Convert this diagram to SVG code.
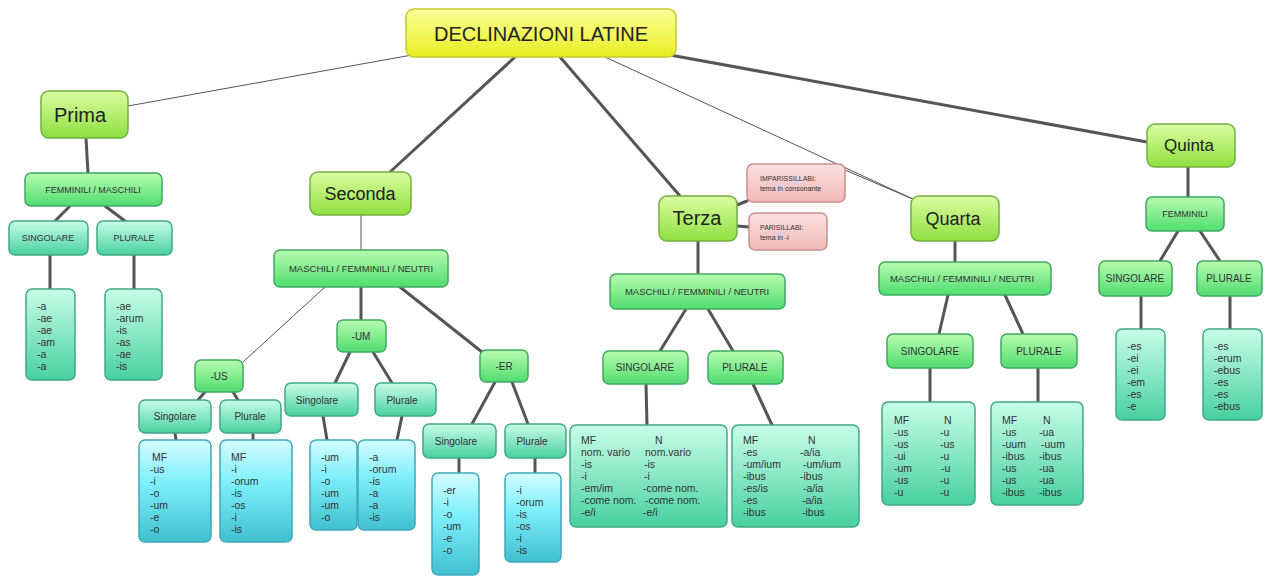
<svg xmlns="http://www.w3.org/2000/svg" width="1280" height="584" viewBox="0 0 1280 584">
<defs>
<linearGradient id="gy" x1="0" y1="0" x2="0" y2="1"><stop offset="0" stop-color="#fbff9a"/><stop offset="1" stop-color="#e8ee20"/></linearGradient>
<linearGradient id="gl" x1="0" y1="0" x2="0" y2="1"><stop offset="0" stop-color="#dcfca0"/><stop offset="1" stop-color="#8ee040"/></linearGradient>
<linearGradient id="gg" x1="0" y1="0" x2="0" y2="1"><stop offset="0" stop-color="#b8fcb0"/><stop offset="1" stop-color="#50dc70"/></linearGradient>
<linearGradient id="gm" x1="0" y1="0" x2="0" y2="1"><stop offset="0" stop-color="#c8fde8"/><stop offset="1" stop-color="#48d0a0"/></linearGradient>
<linearGradient id="gc" x1="0" y1="0" x2="0" y2="1"><stop offset="0" stop-color="#d4fcff"/><stop offset="0.4" stop-color="#80f0fc"/><stop offset="1" stop-color="#40c0d0"/></linearGradient>
<linearGradient id="gp" x1="0" y1="0" x2="0" y2="1"><stop offset="0" stop-color="#fde0e0"/><stop offset="1" stop-color="#f0b8b8"/></linearGradient>
</defs>
<style>
rect{stroke-width:1.5}
.y{fill:url(#gy);stroke:#c8c830}
.l{fill:url(#gl);stroke:#70b040}
.g{fill:url(#gg);stroke:#40a860}
.m{fill:url(#gm);stroke:#40a888}
.c{fill:url(#gc);stroke:#40a8b8}
.p{fill:url(#gp);stroke:#c89090}
text{font-family:"Liberation Sans",Arial,sans-serif;fill:#333;font-size:10px}
.big{font-size:20px;fill:#222}
.med{font-size:11px}
.t{font-size:10.5px}
#connectors line{stroke:#555;stroke-linecap:round}
.k{stroke-width:1}
.w{stroke-width:3}
</style>
<g id="connectors">
<line class="k" x1="412" y1="55" x2="128" y2="106"/>
<line class="w" x1="515" y1="57" x2="390" y2="172"/>
<line class="w" x1="560" y1="57" x2="680" y2="196"/>
<line class="k" x1="605" y1="57" x2="915" y2="200"/>
<line class="w" x1="670" y1="55" x2="1147" y2="142"/>
<line class="w" x1="86" y1="138" x2="88" y2="173"/>
<line class="w" x1="70" y1="206" x2="55" y2="221"/>
<line class="w" x1="105" y1="206" x2="125" y2="221"/>
<line class="w" x1="50" y1="255" x2="50" y2="289"/>
<line class="w" x1="134" y1="255" x2="134" y2="289"/>
<line class="k" x1="361" y1="215" x2="361" y2="250"/>
<line class="k" x1="325" y1="287" x2="243" y2="362"/>
<line class="w" x1="361" y1="287" x2="361" y2="320"/>
<line class="w" x1="400" y1="287" x2="482" y2="352"/>
<line class="w" x1="205" y1="392" x2="198" y2="400"/>
<line class="w" x1="233" y1="392" x2="238" y2="400"/>
<line class="w" x1="175" y1="433" x2="176" y2="440"/>
<line class="w" x1="253" y1="433" x2="253" y2="440"/>
<line class="w" x1="350" y1="352" x2="335" y2="383"/>
<line class="w" x1="373" y1="352" x2="392" y2="383"/>
<line class="w" x1="323" y1="416" x2="327" y2="440"/>
<line class="w" x1="402" y1="416" x2="397" y2="440"/>
<line class="w" x1="495" y1="382" x2="472" y2="424"/>
<line class="w" x1="512" y1="382" x2="528" y2="424"/>
<line class="w" x1="459" y1="458" x2="459" y2="473"/>
<line class="w" x1="535" y1="458" x2="535" y2="473"/>
<line class="w" x1="737" y1="205" x2="747" y2="201"/>
<line class="w" x1="737" y1="226" x2="749" y2="227"/>
<line class="k" x1="845" y1="170" x2="915" y2="200"/>
<line class="w" x1="698" y1="241" x2="698" y2="274"/>
<line class="w" x1="686" y1="309" x2="660" y2="351"/>
<line class="w" x1="708" y1="309" x2="733" y2="351"/>
<line class="w" x1="646" y1="384" x2="647" y2="425"/>
<line class="w" x1="753" y1="384" x2="772" y2="425"/>
<line class="w" x1="955" y1="241" x2="955" y2="262"/>
<line class="w" x1="948" y1="295" x2="939" y2="334"/>
<line class="w" x1="1005" y1="295" x2="1023" y2="334"/>
<line class="w" x1="930" y1="368" x2="930" y2="402"/>
<line class="w" x1="1038" y1="368" x2="1038" y2="402"/>
<line class="w" x1="1188" y1="167" x2="1188" y2="197"/>
<line class="w" x1="1178" y1="231" x2="1160" y2="261"/>
<line class="w" x1="1200" y1="231" x2="1220" y2="261"/>
<line class="w" x1="1141" y1="296" x2="1141" y2="329"/>
<line class="w" x1="1230" y1="296" x2="1230" y2="329"/>
</g>
<g id="root"><rect class="y" x="406" y="9" width="270" height="48" rx="8"/><text class="big" x="541" y="41" text-anchor="middle">DECLINAZIONI LATINE</text></g>
<g id="prima"><rect class="l" x="41" y="91" width="87" height="47" rx="8"/><text class="big" x="80" y="122" text-anchor="middle">Prima</text></g>
<g id="seconda"><rect class="l" x="310" y="172" width="101" height="43" rx="8"/><text class="big" x="360" y="200" text-anchor="middle" style="font-size:18px">Seconda</text></g>
<g id="terza"><rect class="l" x="659" y="196" width="78" height="45" rx="8"/><text class="big" x="697" y="225" text-anchor="middle">Terza</text></g>
<g id="quarta"><rect class="l" x="911" y="196" width="88" height="45" rx="8"/><text class="big" x="953" y="225" text-anchor="middle" style="font-size:18px">Quarta</text></g>
<g id="quinta"><rect class="l" x="1147" y="124" width="88" height="43" rx="8"/><text class="big" x="1189" y="151" text-anchor="middle" style="font-size:17px">Quinta</text></g>
<g id="imparisillabi"><rect class="p" x="747" y="164" width="98" height="38" rx="6"/><text x="760" y="181" style="font-size:7px">IMPARISSILLABI:</text><text x="760" y="191" style="font-size:7px">tema in consonante</text></g>
<g id="parisillabi"><rect class="p" x="749" y="213" width="78" height="37" rx="6"/><text x="760" y="230" style="font-size:7px">PARISILLABI:</text><text x="760" y="240" style="font-size:7px">tema in -i</text></g>
<!-- Prima -->
<g id="p-fm"><rect class="g" x="25" y="173" width="137" height="33" rx="6"/><text x="93" y="193" text-anchor="middle" style="font-size:9px">FEMMINILI / MASCHILI</text></g>
<g id="p-sing"><rect class="m" x="9" y="221" width="79" height="34" rx="6"/><text x="48" y="241" text-anchor="middle" style="font-size:9px">SINGOLARE</text></g>
<g id="p-plur"><rect class="m" x="97" y="221" width="75" height="34" rx="6"/><text x="134" y="241" text-anchor="middle" style="font-size:9px">PLURALE</text></g>
<g id="p-sing-t"><rect class="m" x="26" y="289" width="49" height="91" rx="6"/><text class="t" x="37" y="310"><tspan x="37">-a</tspan><tspan x="37" dy="12">-ae</tspan><tspan x="37" dy="12">-ae</tspan><tspan x="37" dy="12">-am</tspan><tspan x="37" dy="12">-a</tspan><tspan x="37" dy="12">-a</tspan></text></g>
<g id="p-plur-t"><rect class="m" x="105" y="289" width="57" height="91" rx="6"/><text class="t" x="116" y="310"><tspan x="116">-ae</tspan><tspan x="116" dy="12">-arum</tspan><tspan x="116" dy="12">-is</tspan><tspan x="116" dy="12">-as</tspan><tspan x="116" dy="12">-ae</tspan><tspan x="116" dy="12">-is</tspan></text></g>
<!-- Seconda -->
<g id="s-mfn"><rect class="g" x="274" y="250" width="174" height="37" rx="6"/><text x="361" y="272" text-anchor="middle" style="font-size:9.5px">MASCHILI / FEMMINILI / NEUTRI</text></g>
<g id="s-us"><rect class="g" x="195" y="360" width="48" height="32" rx="6"/><text x="219" y="380" text-anchor="middle">-US</text></g>
<g id="s-um"><rect class="g" x="337" y="320" width="49" height="32" rx="6"/><text x="361" y="340" text-anchor="middle">-UM</text></g>
<g id="s-er"><rect class="g" x="480" y="350" width="48" height="32" rx="6"/><text x="504" y="370" text-anchor="middle">-ER</text></g>
<g id="s-us-s"><rect class="m" x="139" y="400" width="72" height="33" rx="6"/><text x="175" y="420" text-anchor="middle">Singolare</text></g>
<g id="s-us-p"><rect class="m" x="220" y="400" width="61" height="33" rx="6"/><text x="250" y="420" text-anchor="middle">Plurale</text></g>
<g id="s-us-st"><rect class="c" x="139" y="440" width="72" height="102" rx="6"/><text class="t" x="150" y="461"><tspan x="152">MF</tspan><tspan x="150" dy="12">-us</tspan><tspan x="150" dy="12">-i</tspan><tspan x="150" dy="12">-o</tspan><tspan x="150" dy="12">-um</tspan><tspan x="150" dy="12">-e</tspan><tspan x="150" dy="12">-o</tspan></text></g>
<g id="s-us-pt"><rect class="c" x="220" y="440" width="72" height="102" rx="6"/><text class="t" x="231" y="461"><tspan x="231">MF</tspan><tspan x="231" dy="12">-i</tspan><tspan x="231" dy="12">-orum</tspan><tspan x="231" dy="12">-is</tspan><tspan x="231" dy="12">-os</tspan><tspan x="231" dy="12">-i</tspan><tspan x="231" dy="12">-is</tspan></text></g>
<g id="s-um-s"><rect class="m" x="285" y="383" width="73" height="33" rx="6"/><text x="317" y="404" text-anchor="middle">Singolare</text></g>
<g id="s-um-p"><rect class="m" x="375" y="383" width="61" height="33" rx="6"/><text x="402" y="404" text-anchor="middle">Plurale</text></g>
<g id="s-um-st"><rect class="c" x="310" y="440" width="47" height="90" rx="6"/><text class="t" x="321" y="461"><tspan x="321">-um</tspan><tspan x="321" dy="12">-i</tspan><tspan x="321" dy="12">-o</tspan><tspan x="321" dy="12">-um</tspan><tspan x="321" dy="12">-um</tspan><tspan x="321" dy="12">-o</tspan></text></g>
<g id="s-um-pt"><rect class="c" x="358" y="440" width="57" height="90" rx="6"/><text class="t" x="369" y="461"><tspan x="369">-a</tspan><tspan x="369" dy="12">-orum</tspan><tspan x="369" dy="12">-is</tspan><tspan x="369" dy="12">-a</tspan><tspan x="369" dy="12">-a</tspan><tspan x="369" dy="12">-is</tspan></text></g>
<g id="s-er-s"><rect class="m" x="423" y="424" width="73" height="34" rx="6"/><text x="456" y="445" text-anchor="middle">Singolare</text></g>
<g id="s-er-p"><rect class="m" x="505" y="424" width="61" height="34" rx="6"/><text x="532" y="445" text-anchor="middle">Plurale</text></g>
<g id="s-er-st"><rect class="c" x="432" y="473" width="47" height="102" rx="6"/><text class="t" x="443" y="494"><tspan x="443">-er</tspan><tspan x="443" dy="12">-i</tspan><tspan x="443" dy="12">-o</tspan><tspan x="443" dy="12">-um</tspan><tspan x="443" dy="12">-e</tspan><tspan x="443" dy="12">-o</tspan></text></g>
<g id="s-er-pt"><rect class="c" x="505" y="473" width="56" height="89" rx="6"/><text class="t" x="516" y="494"><tspan x="516">-i</tspan><tspan x="516" dy="12">-orum</tspan><tspan x="516" dy="12">-is</tspan><tspan x="516" dy="12">-os</tspan><tspan x="516" dy="12">-i</tspan><tspan x="516" dy="12">-is</tspan></text></g>
<!-- Terza -->
<g id="t-mfn"><rect class="g" x="610" y="274" width="175" height="35" rx="6"/><text x="697" y="295" text-anchor="middle" style="font-size:9.5px">MASCHILI / FEMMINILI / NEUTRI</text></g>
<g id="t-sing"><rect class="g" x="603" y="351" width="85" height="33" rx="6"/><text x="645" y="371" text-anchor="middle">SINGOLARE</text></g>
<g id="t-plur"><rect class="g" x="708" y="351" width="75" height="33" rx="6"/><text x="745" y="371" text-anchor="middle">PLURALE</text></g>
<g id="t-sing-t"><rect class="m" x="570" y="425" width="157" height="102" rx="6"/><text class="t" x="581" y="444"><tspan x="581">MF</tspan><tspan x="581" dy="12">nom. vario</tspan><tspan x="581" dy="12">-is</tspan><tspan x="581" dy="12">-i</tspan><tspan x="581" dy="12">-em/im</tspan><tspan x="581" dy="12">-come nom.</tspan><tspan x="581" dy="12">-e/i</tspan></text><text class="t" x="644" y="444"><tspan x="655">N</tspan><tspan x="645" dy="12">nom.vario</tspan><tspan x="644" dy="12">-is</tspan><tspan x="644" dy="12">-i</tspan><tspan x="643" dy="12">-come nom.</tspan><tspan x="645" dy="12">-come nom.</tspan><tspan x="643" dy="12">-e/i</tspan></text></g>
<g id="t-plur-t"><rect class="m" x="732" y="425" width="127" height="102" rx="6"/><text class="t" x="743" y="444"><tspan x="743">MF</tspan><tspan x="743" dy="12">-es</tspan><tspan x="743" dy="12">-um/ium</tspan><tspan x="743" dy="12">-ibus</tspan><tspan x="743" dy="12">-es/is</tspan><tspan x="743" dy="12">-es</tspan><tspan x="743" dy="12">-ibus</tspan></text><text class="t" x="800" y="444"><tspan x="808">N</tspan><tspan x="800" dy="12">-a/ia</tspan><tspan x="803" dy="12">-um/ium</tspan><tspan x="800" dy="12">-ibus</tspan><tspan x="803" dy="12">-a/ia</tspan><tspan x="802" dy="12">-a/ia</tspan><tspan x="802" dy="12">-ibus</tspan></text></g>
<!-- Quarta -->
<g id="q-mfn"><rect class="g" x="879" y="262" width="172" height="33" rx="6"/><text x="962" y="282" text-anchor="middle" style="font-size:9.5px">MASCHILI / FEMMINILI / NEUTRI</text></g>
<g id="q-sing"><rect class="g" x="887" y="334" width="86" height="34" rx="6"/><text x="930" y="355" text-anchor="middle">SINGOLARE</text></g>
<g id="q-plur"><rect class="g" x="1001" y="334" width="76" height="34" rx="6"/><text x="1039" y="355" text-anchor="middle">PLURALE</text></g>
<g id="q-sing-t"><rect class="m" x="882" y="402" width="93" height="103" rx="6"/><text class="t" x="894" y="424"><tspan x="894">MF</tspan><tspan x="894" dy="12">-us</tspan><tspan x="894" dy="12">-us</tspan><tspan x="894" dy="12">-ui</tspan><tspan x="894" dy="12">-um</tspan><tspan x="894" dy="12">-us</tspan><tspan x="894" dy="12">-u</tspan></text><text class="t" x="940" y="424"><tspan x="944">N</tspan><tspan x="940" dy="12">-u</tspan><tspan x="940" dy="12">-us</tspan><tspan x="940" dy="12">-u</tspan><tspan x="941" dy="12">-u</tspan><tspan x="940" dy="12">-u</tspan><tspan x="940" dy="12">-u</tspan></text></g>
<g id="q-plur-t"><rect class="m" x="991" y="402" width="92" height="103" rx="6"/><text class="t" x="1002" y="424"><tspan x="1002">MF</tspan><tspan x="1002" dy="12">-us</tspan><tspan x="1002" dy="12">-uum</tspan><tspan x="1002" dy="12">-ibus</tspan><tspan x="1002" dy="12">-us</tspan><tspan x="1002" dy="12">-us</tspan><tspan x="1002" dy="12">-ibus</tspan></text><text class="t" x="1039" y="424"><tspan x="1043">N</tspan><tspan x="1039" dy="12">-ua</tspan><tspan x="1041" dy="12">-uum</tspan><tspan x="1039" dy="12">-ibus</tspan><tspan x="1039" dy="12">-ua</tspan><tspan x="1039" dy="12">-ua</tspan><tspan x="1039" dy="12">-ibus</tspan></text></g>
<!-- Quinta -->
<g id="qu-f"><rect class="g" x="1146" y="197" width="78" height="34" rx="6"/><text x="1185" y="217" text-anchor="middle" style="font-size:9px">FEMMINILI</text></g>
<g id="qu-sing"><rect class="g" x="1099" y="261" width="73" height="35" rx="6"/><text x="1135" y="282" text-anchor="middle">SINGOLARE</text></g>
<g id="qu-plur"><rect class="g" x="1197" y="261" width="65" height="35" rx="6"/><text x="1229" y="282" text-anchor="middle">PLURALE</text></g>
<g id="qu-sing-t"><rect class="m" x="1116" y="329" width="49" height="91" rx="6"/><text class="t" x="1127" y="350"><tspan x="1127">-es</tspan><tspan x="1127" dy="12">-ei</tspan><tspan x="1127" dy="12">-ei</tspan><tspan x="1127" dy="12">-em</tspan><tspan x="1127" dy="12">-es</tspan><tspan x="1127" dy="12">-e</tspan></text></g>
<g id="qu-plur-t"><rect class="m" x="1203" y="329" width="59" height="91" rx="6"/><text class="t" x="1214" y="350"><tspan x="1214">-es</tspan><tspan x="1214" dy="12">-erum</tspan><tspan x="1214" dy="12">-ebus</tspan><tspan x="1214" dy="12">-es</tspan><tspan x="1214" dy="12">-es</tspan><tspan x="1214" dy="12">-ebus</tspan></text></g>
</svg>
